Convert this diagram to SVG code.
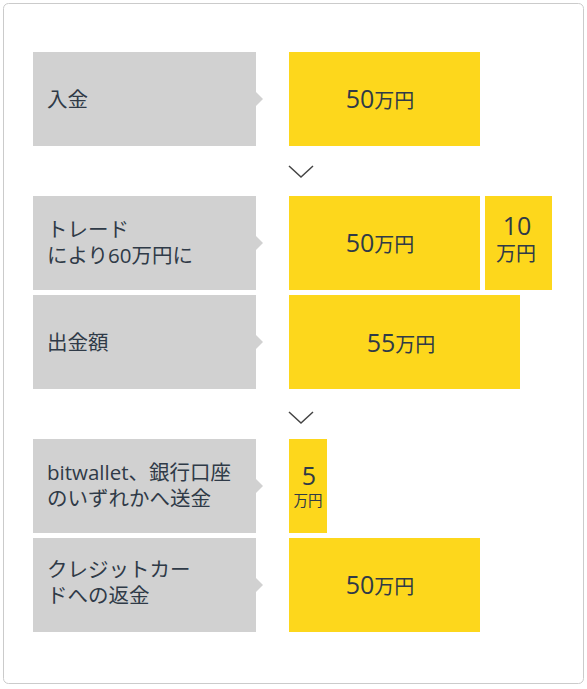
<svg xmlns="http://www.w3.org/2000/svg" width="587" height="689" viewBox="0 0 587 689">
<style>
.lbl{fill:#d1d1d1}
.val{fill:#fdd71c}
text{font-family:"Open Sans","Noto Sans CJK JP",sans-serif;fill:#2f3a47}
.t{font-size:20.5px}
.n{font-size:25px}
.u{font-size:20px}
.chev{fill:none;stroke:#444;stroke-width:1.5}
</style>
<defs>
<path id="tip" d="M0,-7 L7,0 L0,7 Z" fill="#d1d1d1"/>
</defs>
<rect x="3.5" y="3.5" width="580" height="680" rx="5" fill="#fff" stroke="#cbcbcb"/>

<g id="row1-label">
<rect class="lbl" x="33" y="52" width="223" height="94"/>
<use href="#tip" x="256" y="99"/>
<text class="t" x="47" y="107">入金</text>
</g>
<g id="row1-value">
<rect class="val" x="289" y="52" width="191" height="94"/>
<text x="380" y="108" text-anchor="middle"><tspan class="n">50</tspan><tspan class="u">万円</tspan></text>
</g>

<g id="row2-label">
<rect class="lbl" x="33" y="196" width="223" height="94"/>
<use href="#tip" x="256" y="243"/>
<text class="t" x="47" y="237">トレード</text>
<text class="t" x="47" y="263">により60万円に</text>
</g>
<g id="row2-value">
<rect class="val" x="289" y="196" width="191" height="94"/>
<text x="380" y="252" text-anchor="middle"><tspan class="n">50</tspan><tspan class="u">万円</tspan></text>
</g>
<g id="row2-extra">
<rect class="val" x="485" y="196" width="67" height="94"/>
<text class="n" x="517" y="235" text-anchor="middle">10</text>
<text class="u" x="516" y="261" text-anchor="middle">万円</text>
</g>

<g id="row3-label">
<rect class="lbl" x="33" y="295" width="223" height="94"/>
<use href="#tip" x="256" y="342"/>
<text class="t" x="47" y="350">出金額</text>
</g>
<g id="row3-value">
<rect class="val" x="289" y="295" width="231" height="94"/>
<text x="401" y="352" text-anchor="middle"><tspan class="n">55</tspan><tspan class="u">万円</tspan></text>
</g>

<g id="row4-label">
<rect class="lbl" x="33" y="439" width="223" height="94"/>
<use href="#tip" x="256" y="486"/>
<text class="t" x="47" y="480">bitwallet、銀行口座</text>
<text class="t" x="47" y="506">のいずれかへ送金</text>
</g>
<g id="row4-value">
<rect class="val" x="289" y="439" width="38" height="94"/>
<text class="n" x="309" y="485" text-anchor="middle">5</text>
<text x="308" y="506" text-anchor="middle" font-size="14.5">万円</text>
</g>

<g id="row5-label">
<rect class="lbl" x="33" y="538" width="223" height="94"/>
<use href="#tip" x="256" y="585"/>
<text class="t" x="47" y="577">クレジットカー</text>
<text class="t" x="47" y="603">ドへの返金</text>
</g>
<g id="row5-value">
<rect class="val" x="289" y="538" width="191" height="94"/>
<text x="380" y="594" text-anchor="middle"><tspan class="n">50</tspan><tspan class="u">万円</tspan></text>
</g>

<g id="connectors">
<polyline class="chev" points="289,166 301,177 313,166"/>
<polyline class="chev" points="289,412 301,423 313,412"/>
</g>
</svg>
